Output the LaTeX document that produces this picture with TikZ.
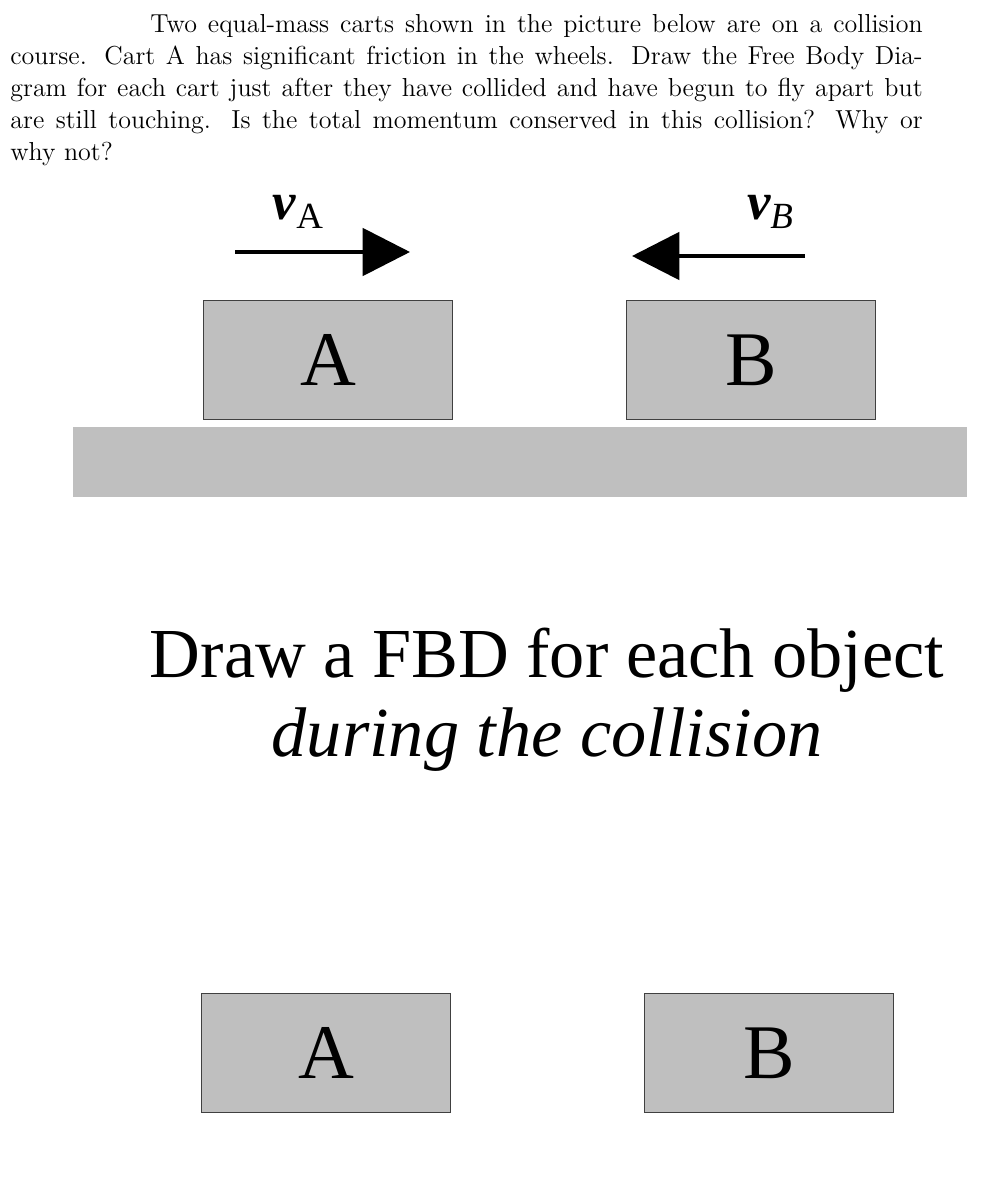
\documentclass[tikz,border=0pt]{standalone}
\usepackage{fontspec}
\newfontfamily\tnr{Liberation Serif}
\usetikzlibrary{arrows.meta}
\begin{document}
\begin{tikzpicture}[x=0.02cm,y=-0.02cm]
\tikzstyle{cart} = [draw=black!75, fill=black!25, line width=1pt, minimum width=4.98cm, minimum height=2.38cm, inner sep=0pt, font=\tnr\fontsize{44}{44}\selectfont]
\tikzstyle{vel} = [line width=2.2pt, -{Triangle[length=0.95cm,width=0.95cm]}]
\tikzstyle{vlabel} = [font=\tnr\fontsize{30}{30}\selectfont, inner sep=0pt]
\useasboundingbox (0,0) rectangle (982,1193);
% problem text
\node[anchor=north west, text width=18.25cm, align=justify, inner sep=0pt,
  font=\fontsize{14.8}{18.2}\selectfont] (task) at (10,14)
  {\hspace*{2.8cm}Two equal-mass carts shown in the picture below are on a collision\linebreak course. Cart A has significant friction in the wheels. Draw the Free Body Dia-\linebreak gram for each cart just after they have collided and have begun to fly apart but\linebreak are still touching. Is the total momentum conserved in this collision? Why or\linebreak why not?};
% carts before collision
\node[cart] (cartA) at (328,360) {A};
\node[cart] (cartB) at (751,360) {B};
\fill[black!25] (73,427) rectangle (967,497);
% velocities
\coordinate (a0) at (235,252);
\coordinate (a1) at (410,252);
\coordinate (b0) at (805,256);
\coordinate (b1) at (632,256);
\draw[vel] (a0) -- (a1);
\draw[vel] (b0) -- (b1);
\node[vlabel] (vA) at (298,212) {\bfseries\itshape v\raisebox{-0.4ex}{\mdseries\upshape\fontsize{21}{21}\selectfont A}};
\node[vlabel] (vB) at (770,212) {\bfseries\itshape v\raisebox{-0.4ex}{\mdseries\fontsize{21}{21}\selectfont B}};
% headline
\node[font=\tnr\fontsize{40}{40}\selectfont, inner sep=0pt] (head1) at (547,660) {Draw a FBD for each object};
\node[font=\tnr\itshape\fontsize{40}{40}\selectfont, inner sep=0pt] (head2) at (547,740) {during the collision};
% carts for the FBD
\node[cart] (fbdA) at (326,1053) {A};
\node[cart] (fbdB) at (769,1053) {B};
\end{tikzpicture}
\end{document}
